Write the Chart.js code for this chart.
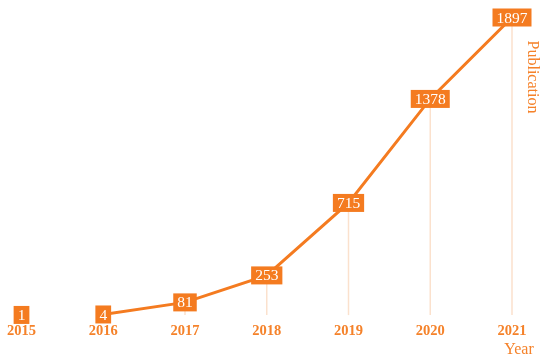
<!DOCTYPE html>
<html>
<head>
<meta charset="utf-8">
<script src="https://cdn.jsdelivr.net/npm/chart.js@4/dist/chart.umd.min.js"></script>
<style>
  html, body { margin: 0; padding: 0; background: #fff; }
  #wrap { width: 550px; height: 364px; }
</style>
</head>
<body>
<div id="wrap"><canvas id="pubChart"></canvas></div>
<script>
var years = ['2015', '2016', '2017', '2018', '2019', '2020', '2021'];
var publications = [1, 4, 81, 253, 715, 1378, 1897];

var orange = '#f47b20';
var serif = "'Liberation Serif', 'Times New Roman', serif";

// drop lines under points, value boxes on top, axis names
var labelsPlugin = {
	id: 'labelsPlugin',
	beforeDatasetsDraw: function(chart) {
		var ctx = chart.ctx;
		var meta = chart.getDatasetMeta(0);
		var bottom = chart.chartArea.bottom;
		ctx.save();
		ctx.strokeStyle = '#fbe1cd';
		ctx.lineWidth = 1.5;
		meta.data.forEach(function(pt) {
			ctx.beginPath();
			ctx.moveTo(pt.x, pt.y);
			ctx.lineTo(pt.x, bottom);
			ctx.stroke();
		});
		ctx.restore();
	},
	afterDatasetsDraw: function(chart) {
		var ctx = chart.ctx;
		var meta = chart.getDatasetMeta(0);
		var area = chart.chartArea;
		ctx.save();
		ctx.font = '15.5px ' + serif;
		ctx.textAlign = 'center';
		ctx.textBaseline = 'middle';
		meta.data.forEach(function(pt, i) {
			var txt = String(publications[i]);
			var w = ctx.measureText(txt).width + 8;
			var h = 18;
			ctx.fillStyle = orange;
			ctx.fillRect(pt.x - w / 2, pt.y - h / 2, w, h);
			ctx.fillStyle = '#fff';
			ctx.fillText(txt, pt.x, pt.y + 1);
		});

		ctx.fillStyle = '#f5822a';
		ctx.font = '16px ' + serif;
		ctx.fillText('Year', area.right + 7, 350);

		ctx.translate(area.right + 20, 77);
		ctx.rotate(Math.PI / 2);
		ctx.fillText('Publication', 0, 0);
		ctx.restore();
	}
};

var ctx = document.getElementById('pubChart').getContext('2d');
var pubChart = new Chart(ctx, {
	type: 'line',
	data: {
		labels: years,
		datasets: [{
			label: 'Publication',
			data: publications,
			borderColor: orange,
			borderWidth: 3,
			pointRadius: 0,
			tension: 0,
			fill: false,
			segment: {
				// no line between 2015 and 2016 in the original
				borderColor: function(c) { return c.p0DataIndex === 0 ? 'rgba(0,0,0,0)' : orange; }
			}
		}]
	},
	options: {
		responsive: true,
		maintainAspectRatio: false,
		animation: false,
		layout: {
			padding: { top: 17.5, left: 20.5, right: 38, bottom: 17.5 }
		},
		plugins: {
			legend: { display: false },
			tooltip: { enabled: false }
		},
		scales: {
			x: {
				grid: { display: false, drawTicks: false },
				border: { display: false },
				ticks: {
					color: '#f5822a',
					padding: 7,
					maxRotation: 0,
					font: { family: serif, size: 14.5, weight: 'bold' }
				}
			},
			y: {
				display: false,
				min: 0,
				max: 1897
			}
		}
	},
	plugins: [labelsPlugin]
});
</script>
</body>
</html>
